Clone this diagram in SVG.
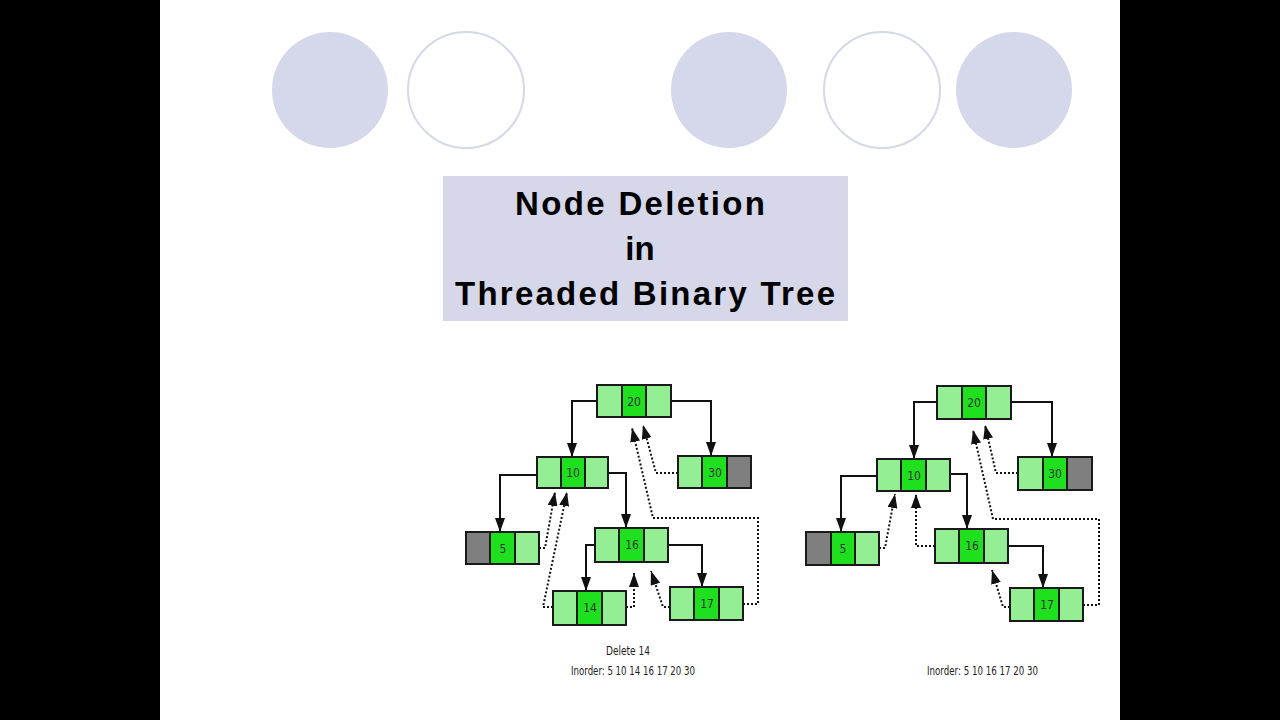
<svg xmlns="http://www.w3.org/2000/svg" width="1280" height="720" viewBox="0 0 1280 720">
<style>
.l{fill:#94ee94;stroke:#1a1a1a;stroke-width:2}
.c{fill:#1ee01e;stroke:#1a1a1a;stroke-width:2}
.g{fill:#7f7f7f;stroke:#1a1a1a;stroke-width:2}
.t{font-family:"DejaVu Sans Condensed","Liberation Sans Narrow","Liberation Sans",sans-serif;font-size:12px;fill:#333;text-anchor:middle}
.e{fill:none;stroke:#111;stroke-width:2}
.d{fill:none;stroke:#111;stroke-width:2;stroke-dasharray:2 2}
.cap{font-family:"DejaVu Sans Condensed","Liberation Sans",sans-serif;font-size:12px;fill:#222}
</style>
<defs>
<marker id="a" viewBox="0 0 14 10" refX="14" refY="5" markerWidth="7" markerHeight="5" orient="auto" markerUnits="strokeWidth"><path d="M0,0L14,5L0,10z" fill="#111"/></marker>
</defs>
<rect width="1280" height="720" fill="#000"/>
<rect x="160" y="0" width="960" height="720" fill="#fff"/>
<g id="circles">
<circle cx="330" cy="90" r="58" fill="#d5d7ea"/>
<circle cx="466" cy="90" r="58" fill="#fff" stroke="#d5d7ea" stroke-width="2"/>
<circle cx="729" cy="90" r="58" fill="#d5d7ea"/>
<circle cx="882" cy="90" r="58" fill="#fff" stroke="#d5d7ea" stroke-width="2"/>
<circle cx="1014" cy="90" r="58" fill="#d5d7ea"/>
</g>
<g id="title">
<rect x="443" y="176" width="405" height="145" fill="#d6d8ea"/>
<text font-family="Liberation Sans,sans-serif" font-weight="bold" font-size="33" text-anchor="middle" fill="#000"><tspan x="640" y="215" textLength="250">Node Deletion</tspan><tspan x="640" y="260">in</tspan><tspan x="645" y="305" textLength="380">Threaded Binary Tree</tspan></text>
</g>
<g id="connectors">
<path class="e" d="M597,401H572V457" marker-end="url(#a)"/>
<path class="e" d="M671,401H711V456" marker-end="url(#a)"/>
<path class="e" d="M537,475H500V532" marker-end="url(#a)"/>
<path class="e" d="M608,473H626V528" marker-end="url(#a)"/>
<path class="e" d="M595,545H586V591" marker-end="url(#a)"/>
<path class="e" d="M668,545H702V587" marker-end="url(#a)"/>
<path class="d" d="M678,473H656L643,425" marker-end="url(#a)"/>
<path class="d" d="M743,604H758V518H653L632,428" marker-end="url(#a)"/>
<path class="d" d="M539,548H545L555,492" marker-end="url(#a)"/>
<path class="d" d="M553,607H543L567,492" marker-end="url(#a)"/>
<path class="d" d="M626,607H634V573" marker-end="url(#a)"/>
<path class="d" d="M670,607H663L651,571" marker-end="url(#a)"/>
<path class="e" d="M937,402H914V459" marker-end="url(#a)"/>
<path class="e" d="M1011,402H1052V457" marker-end="url(#a)"/>
<path class="e" d="M877,476H841V532" marker-end="url(#a)"/>
<path class="e" d="M950,474H967V529" marker-end="url(#a)"/>
<path class="e" d="M1008,546H1043V588" marker-end="url(#a)"/>
<path class="d" d="M1018,473H996L985,425" marker-end="url(#a)"/>
<path class="d" d="M1083,605H1099V519H993L973,430" marker-end="url(#a)"/>
<path class="d" d="M879,548H885L895,494" marker-end="url(#a)"/>
<path class="d" d="M935,546H916V494" marker-end="url(#a)"/>
<path class="d" d="M1010,607H1003L992,570" marker-end="url(#a)"/>
</g>
<g id="n20a"><rect class="l" x="597" y="385" width="25" height="32"/><rect class="c" x="622" y="385" width="24" height="32"/><rect class="l" x="646" y="385" width="25" height="32"/><text class="t" x="634" y="406">20</text></g>
<g id="n10a"><rect class="l" x="537" y="457" width="24" height="31"/><rect class="c" x="561" y="457" width="24" height="31"/><rect class="l" x="585" y="457" width="23" height="31"/><text class="t" x="573" y="477">10</text></g>
<g id="n30a"><rect class="l" x="678" y="456" width="24" height="32"/><rect class="c" x="702" y="456" width="25" height="32"/><rect class="g" x="727" y="456" width="24" height="32"/><text class="t" x="715" y="477">30</text></g>
<g id="n5a"><rect class="g" x="466" y="532" width="24" height="32"/><rect class="c" x="490" y="532" width="25" height="32"/><rect class="l" x="515" y="532" width="24" height="32"/><text class="t" x="503" y="553">5</text></g>
<g id="n16a"><rect class="l" x="595" y="528" width="24" height="34"/><rect class="c" x="619" y="528" width="25" height="34"/><rect class="l" x="644" y="528" width="24" height="34"/><text class="t" x="632" y="549">16</text></g>
<g id="n14a"><rect class="l" x="553" y="591" width="24" height="34"/><rect class="c" x="577" y="591" width="25" height="34"/><rect class="l" x="602" y="591" width="24" height="34"/><text class="t" x="590" y="612">14</text></g>
<g id="n17a"><rect class="l" x="670" y="587" width="24" height="33"/><rect class="c" x="694" y="587" width="25" height="33"/><rect class="l" x="719" y="587" width="24" height="33"/><text class="t" x="707" y="608">17</text></g>
<g id="n20b"><rect class="l" x="937" y="386" width="25" height="33"/><rect class="c" x="962" y="386" width="24" height="33"/><rect class="l" x="986" y="386" width="25" height="33"/><text class="t" x="974" y="407">20</text></g>
<g id="n10b"><rect class="l" x="877" y="459" width="24" height="32"/><rect class="c" x="901" y="459" width="25" height="32"/><rect class="l" x="926" y="459" width="24" height="32"/><text class="t" x="914" y="480">10</text></g>
<g id="n30b"><rect class="l" x="1018" y="457" width="25" height="33"/><rect class="c" x="1043" y="457" width="24" height="33"/><rect class="g" x="1067" y="457" width="25" height="33"/><text class="t" x="1055" y="478">30</text></g>
<g id="n5b"><rect class="g" x="806" y="532" width="25" height="33"/><rect class="c" x="831" y="532" width="24" height="33"/><rect class="l" x="855" y="532" width="24" height="33"/><text class="t" x="843" y="553">5</text></g>
<g id="n16b"><rect class="l" x="935" y="529" width="24" height="34"/><rect class="c" x="959" y="529" width="25" height="34"/><rect class="l" x="984" y="529" width="24" height="34"/><text class="t" x="972" y="550">16</text></g>
<g id="n17b"><rect class="l" x="1010" y="588" width="24" height="33"/><rect class="c" x="1034" y="588" width="25" height="33"/><rect class="l" x="1059" y="588" width="24" height="33"/><text class="t" x="1047" y="609">17</text></g>
<g id="captions">
<text class="cap" x="606" y="655" textLength="44" lengthAdjust="spacingAndGlyphs">Delete 14</text>
<text class="cap" x="571" y="675" textLength="124" lengthAdjust="spacingAndGlyphs">Inorder: 5 10 14 16 17 20 30</text>
<text class="cap" x="927" y="675" textLength="111" lengthAdjust="spacingAndGlyphs">Inorder: 5 10 16 17 20 30</text>
</g>
</svg>
